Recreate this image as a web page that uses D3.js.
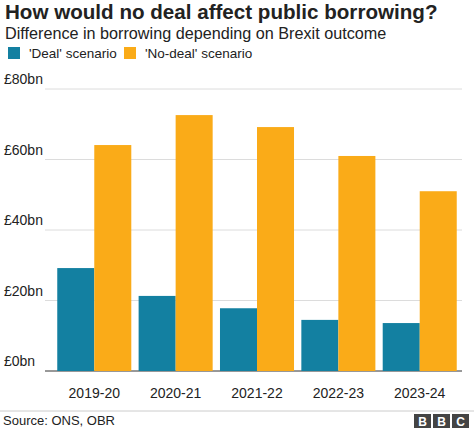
<!DOCTYPE html>
<html><head><meta charset="utf-8">
<script src="https://cdn.jsdelivr.net/npm/d3@7"></script>
<style>body{margin:0;background:#fff;font-family:Helvetica,Arial,"Liberation Sans",sans-serif}</style>
</head><body><svg id="c" width="474" height="429"></svg>
<script>
const categories=["2019-20","2020-21","2021-22","2022-23","2023-24"];
const dealValues=[29.2,21.3,17.8,14.5,13.6];
const noDealValues=[64.1,72.6,69.2,61.0,51.0];
const seriesNames=["'Deal' scenario","'No-deal' scenario"];
const colors=["#1380a1","#faab18"];
const yTicks=[0,20,40,60,80];

const svg=d3.select("#c");
svg.append("text").attr("x",5).attr("y",19).attr("font-size",20.6).attr("font-weight","bold").attr("fill","#222").text("How would no deal affect public borrowing?");
svg.append("text").attr("x",5).attr("y",39).attr("font-size",16.2).attr("fill","#222").text("Difference in borrowing depending on Brexit outcome");
const lg=svg.append("g");
[0,1].forEach(i=>{const x=i?124:8;
 lg.append("rect").attr("x",x).attr("y",47).attr("width",12).attr("height",12).attr("fill",colors[i]);
 lg.append("text").attr("x",x+21).attr("y",58).attr("font-size",13.5).attr("fill","#222").text(seriesNames[i]);});

const y=d3.scaleLinear().domain([0,80]).range([371,89]);
const x=d3.scaleBand().domain(categories).range([54,460]).paddingInner(0.09).paddingOuter(0.04);
const xs=d3.scaleBand().domain([0,1]).range([0,x.bandwidth()]);
const g=svg.append("g");
yTicks.forEach(t=>{
 g.append("line").attr("x1",45).attr("x2",462).attr("y1",y(t)).attr("y2",y(t)).attr("stroke",t?"#dcdcdc":"#333").attr("stroke-width",1);
 g.append("text").attr("x",4).attr("y",y(t)-5).attr("font-size",14).attr("fill","#222").text("£"+t+"bn");
});
categories.forEach((c,i)=>{
 [dealValues[i],noDealValues[i]].forEach((v,j)=>{
  g.append("rect").attr("x",x(c)+xs(j)).attr("width",xs.bandwidth()).attr("y",y(v)).attr("height",y(0)-y(v)).attr("fill",colors[j]);
 });
 g.append("text").attr("x",x(c)+x.bandwidth()/2).attr("y",398).attr("text-anchor","middle").attr("font-size",14).attr("fill","#222").text(c);
});
svg.append("line").attr("x1",0).attr("x2",474).attr("y1",411).attr("y2",411).attr("stroke","#ccc");
svg.append("text").attr("x",3).attr("y",425).attr("font-size",13).attr("fill","#222").text("Source: ONS, OBR");
["B","B","C"].forEach((l,i)=>{const bx=414+i*19;
 svg.append("rect").attr("x",bx).attr("y",414).attr("width",17).attr("height",14).attr("fill","#444");
 svg.append("text").attr("x",bx+8.5).attr("y",426).attr("text-anchor","middle").attr("font-size",12).attr("font-weight","bold").attr("fill","#fff").text(l);});
</script></body></html>
